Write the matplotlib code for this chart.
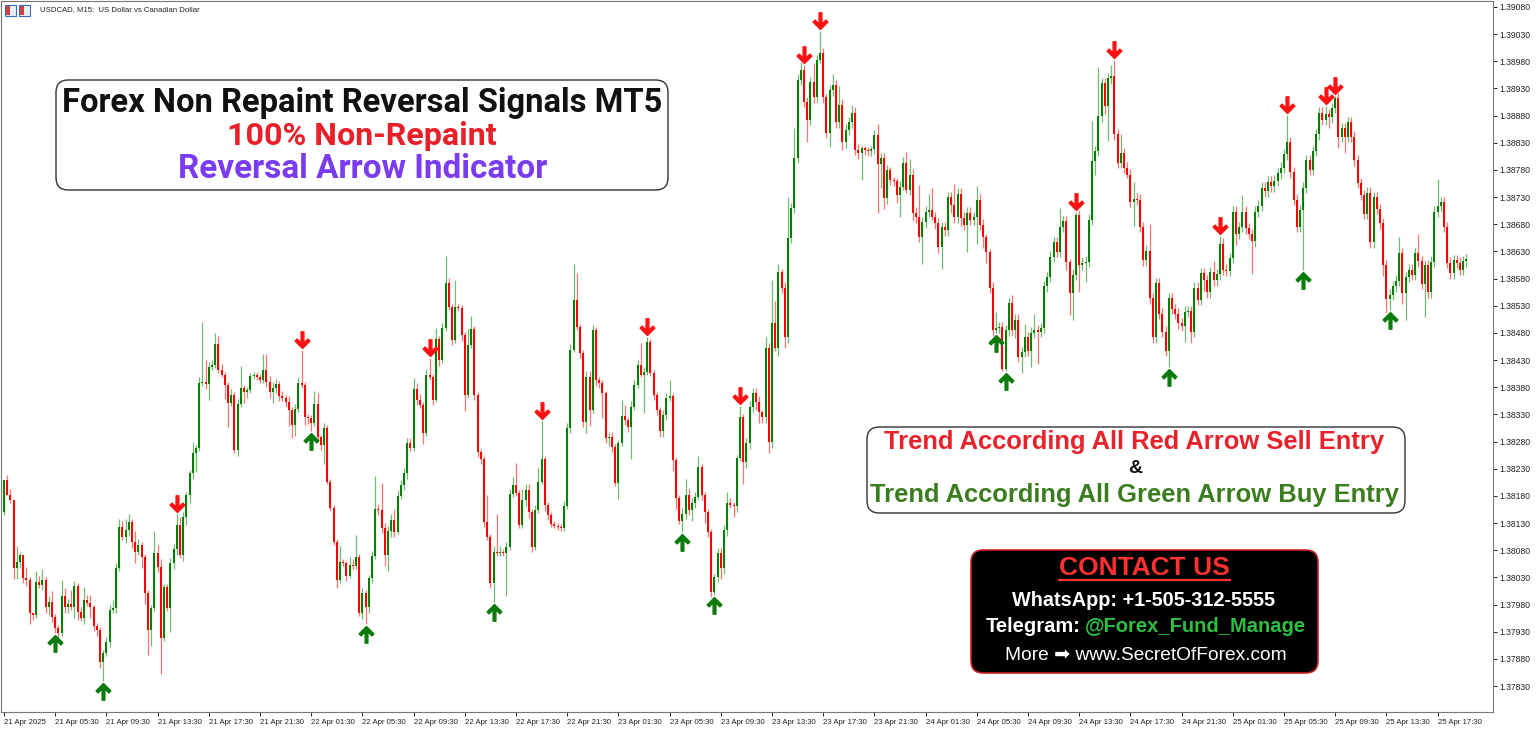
import numpy as np
import matplotlib
matplotlib.use("Agg")
import matplotlib.pyplot as plt
import matplotlib.transforms as mtransforms
from matplotlib.patches import FancyBboxPatch, Rectangle
from matplotlib.path import Path

# ---- data ----
first_open = 1.38150
closes = [
    1.38209, 1.38182, 1.38172, 1.38047, 1.38058, 1.38071, 1.38029, 1.38025, 1.37964, 1.37961,
    1.38022, 1.38016, 1.38025, 1.37975, 1.37985, 1.37957, 1.37937, 1.37928, 1.37996, 1.37975,
    1.37981, 1.37975, 1.38014, 1.37966, 1.37955, 1.37988, 1.37983, 1.37975, 1.37941, 1.37933,
    1.37874, 1.37891, 1.37911, 1.37970, 1.37974, 1.38047, 1.38123, 1.38104, 1.38117, 1.38132,
    1.38095, 1.38077, 1.38090, 1.38068, 1.38001, 1.37933, 1.37974, 1.38075, 1.38049, 1.37918,
    1.38012, 1.37974, 1.38056, 1.38082, 1.38126, 1.38071, 1.38141, 1.38182, 1.38222, 1.38259,
    1.38268, 1.38388, 1.38390, 1.38386, 1.38417, 1.38421, 1.38460, 1.38412, 1.38403, 1.38384,
    1.38351, 1.38366, 1.38264, 1.38349, 1.38379, 1.38371, 1.38375, 1.38401, 1.38403, 1.38399,
    1.38393, 1.38412, 1.38390, 1.38371, 1.38379, 1.38386, 1.38364, 1.38360, 1.38353, 1.38338,
    1.38311, 1.38340, 1.38388, 1.38384, 1.38325, 1.38323, 1.38314, 1.38349, 1.38288, 1.38274,
    1.38305, 1.38206, 1.38158, 1.38095, 1.38025, 1.38058, 1.38056, 1.38033, 1.38053, 1.38051,
    1.38068, 1.37964, 1.38001, 1.37975, 1.38029, 1.38069, 1.38156, 1.38154, 1.38121, 1.38071,
    1.38115, 1.38136, 1.38114, 1.38180, 1.38200, 1.38222, 1.38277, 1.38268, 1.38377, 1.38357,
    1.38347, 1.38296, 1.38403, 1.38399, 1.38357, 1.38469, 1.38430, 1.38489, 1.38572, 1.38528,
    1.38467, 1.38528, 1.38526, 1.38476, 1.38366, 1.38458, 1.38487, 1.38366, 1.38261, 1.38248,
    1.38132, 1.38104, 1.38020, 1.38077, 1.38075, 1.38077, 1.38075, 1.38086, 1.38183, 1.38200,
    1.38185, 1.38126, 1.38172, 1.38191, 1.38150, 1.38086, 1.38154, 1.38206, 1.38248, 1.38163,
    1.38145, 1.38128, 1.38125, 1.38123, 1.38121, 1.38161, 1.38305, 1.38449, 1.38541, 1.38491,
    1.38443, 1.38316, 1.38399, 1.38338, 1.38485, 1.38393, 1.38388, 1.38369, 1.38287, 1.38288,
    1.38270, 1.38204, 1.38277, 1.38327, 1.38320, 1.38307, 1.38344, 1.38384, 1.38421, 1.38403,
    1.38408, 1.38463, 1.38406, 1.38366, 1.38338, 1.38299, 1.38329, 1.38360, 1.38364, 1.38246,
    1.38176, 1.38134, 1.38147, 1.38182, 1.38154, 1.38167, 1.38178, 1.38233, 1.38182, 1.38150,
    1.38114, 1.38003, 1.38031, 1.38075, 1.38047, 1.38117, 1.38167, 1.38163, 1.38161, 1.38250,
    1.38325, 1.38242, 1.38277, 1.38344, 1.38369, 1.38353, 1.38334, 1.38325, 1.38452, 1.38279,
    1.38498, 1.38452, 1.38592, 1.38563, 1.38472, 1.38655, 1.38710, 1.38802, 1.38946, 1.38964,
    1.38905, 1.38872, 1.38942, 1.38914, 1.38982, 1.38995, 1.38914, 1.38848, 1.38927, 1.38936,
    1.38868, 1.38900, 1.38831, 1.38854, 1.38868, 1.38885, 1.38817, 1.38811, 1.38820, 1.38817,
    1.38815, 1.38819, 1.38844, 1.38791, 1.38802, 1.38728, 1.38780, 1.38762, 1.38760, 1.38734,
    1.38749, 1.38793, 1.38743, 1.38771, 1.38701, 1.38693, 1.38657, 1.38684, 1.38703, 1.38706,
    1.38693, 1.38682, 1.38638, 1.38675, 1.38669, 1.38730, 1.38715, 1.38693, 1.38736, 1.38692,
    1.38679, 1.38701, 1.38688, 1.38693, 1.38725, 1.38679, 1.38657, 1.38629, 1.38563, 1.38485,
    1.38489, 1.38491, 1.38414, 1.38485, 1.38535, 1.38485, 1.38504, 1.38436, 1.38445, 1.38472,
    1.38447, 1.38480, 1.38485, 1.38482, 1.38489, 1.38566, 1.38583, 1.38620, 1.38647, 1.38629,
    1.38675, 1.38686, 1.38611, 1.38553, 1.38587, 1.38697, 1.38605, 1.38609, 1.38611, 1.38688,
    1.38796, 1.38815, 1.38879, 1.38940, 1.38898, 1.38949, 1.38953, 1.38846, 1.38793, 1.38811,
    1.38784, 1.38771, 1.38721, 1.38727, 1.38725, 1.38675, 1.38614, 1.38631, 1.38544, 1.38472,
    1.38572, 1.38515, 1.38482, 1.38447, 1.38544, 1.38524, 1.38515, 1.38498, 1.38493, 1.38519,
    1.38520, 1.38482, 1.38563, 1.38541, 1.38590, 1.38577, 1.38555, 1.38592, 1.38577, 1.38588,
    1.38644, 1.38596, 1.38594, 1.38618, 1.38703, 1.38662, 1.38675, 1.38703, 1.38673, 1.38662,
    1.38649, 1.38703, 1.38714, 1.38747, 1.38741, 1.38758, 1.38750, 1.38760, 1.38774, 1.38784,
    1.38809, 1.38831, 1.38776, 1.38725, 1.38675, 1.38706, 1.38747, 1.38798, 1.38780, 1.38815,
    1.38846, 1.38885, 1.38872, 1.38883, 1.38877, 1.38894, 1.38912, 1.38841, 1.38857, 1.38841,
    1.38868, 1.38841, 1.38798, 1.38756, 1.38734, 1.38699, 1.38738, 1.38647, 1.38730, 1.38708,
    1.38682, 1.38605, 1.38542, 1.38550, 1.38566, 1.38576, 1.38627, 1.38553, 1.38583, 1.38596,
    1.38587, 1.38627, 1.38612, 1.38570, 1.38605, 1.38555, 1.38611, 1.38703, 1.38714, 1.38721,
    1.38675, 1.38609, 1.38590, 1.38614, 1.38609, 1.38596, 1.38612, 1.38616,
]
# wick lengths beyond the body, in pips
upper_wick = [
    0, 1, 1, 0, 3, 0.5, 0, 2, 0.5, 0,
    2, 1, 2, 0.5, 1, 2, 0.5, 0.5, 3, 1.5,
    1, 2.5, 1, 0.5, 1, 2.5, 1, 1.5, 0.5, 0.5,
    0.5, 0.5, 1, 1, 1.5, 1, 1.5, 1, 2, 1.5,
    0.5, 2, 1, 0.5, 0.5, 0.5, 0.5, 4, 1.5, 1.5,
    0.5, 0.5, 1, 1, 2, 1.5, 1, 0.5, 0.5, 2,
    0.5, 1, 11, 4, 1, 1, 2, 1.5, 1, 0.5,
    0.5, 1, 0.5, 1, 4, 0.5, 0.5, 0.5, 0.5, 0.5,
    0.5, 3, 3, 1, 1, 1, 0.5, 1, 0.5, 1,
    0.5, 1, 1, 6, 0.5, 0.5, 0.5, 2.5, 2, 0.5,
    1, 0.5, 0.5, 0.5, 0.5, 3, 0.5, 0.5, 1.5, 1,
    4, 0.5, 1, 0.5, 0.5, 1, 6, 1, 5, 1,
    1, 1, 2, 1, 1, 1, 1, 1, 2, 1,
    1, 0.5, 1, 3, 0.5, 2, 0.5, 1, 5, 1,
    0.5, 5, 0.5, 0.5, 0.5, 3, 2.5, 0.5, 0.5, 0.5,
    0.5, 5, 0.5, 1, 7, 1, 0.5, 1, 1, 1.5,
    4, 0.5, 2, 1, 1, 0.5, 1, 2.5, 7, 0.5,
    0.5, 0.5, 0.5, 0.5, 0.5, 1, 1, 1, 6.5, 5,
    0.5, 0.5, 1, 1, 1, 0.5, 0.5, 0.5, 0.5, 1,
    1, 0.5, 0.5, 3, 2, 0.5, 1, 1, 1, 4,
    1, 1, 0.5, 0.5, 0.5, 0.5, 1, 1, 3, 0.5,
    0.5, 0.5, 1, 3, 1, 1, 1, 2, 0.5, 0.5,
    0.5, 0.5, 0.5, 1, 1, 1, 2, 1, 0.5, 0.5,
    2, 0.5, 1, 1, 1, 1, 1, 0.5, 2, 1,
    8, 4, 1.5, 0.5, 1, 7.5, 1, 5.5, 1, 1.5,
    1, 1, 1, 3.5, 1, 4, 1, 0.5, 1, 2,
    1, 3.5, 1, 1, 1, 1.5, 1, 1, 0.5, 0.5,
    0.5, 0.5, 1, 2, 1, 1, 1, 0.5, 0.5, 0.5,
    1, 1, 2, 3, 1, 1, 6, 1, 1, 3,
    4, 1, 1, 1, 1, 1, 1, 4, 1, 1,
    1, 1, 1, 1, 2.5, 1, 1, 0.5, 0.5, 1,
    3, 1, 1, 1, 1, 1.5, 1, 1, 1, 2.5,
    1, 1, 3, 1, 1, 1, 1, 1, 1, 1,
    3.5, 1, 1, 0.5, 1, 0.5, 1, 1, 1, 1,
    7.5, 1, 9, 1, 1, 1, 2, 3, 1, 3.5,
    1, 1, 1, 3, 1, 1, 1, 1, 5, 1,
    1, 1, 1, 1, 1, 1, 1, 1, 1, 1,
    1, 1, 1, 1, 1, 1, 1, 1, 2, 1,
    1.5, 1, 1, 1, 1, 1, 1, 3, 1, 1,
    1, 1, 1, 1, 1, 1, 1, 1, 1, 1,
    1, 5, 1, 1, 1, 1, 1, 1, 1, 1,
    1, 1, 1, 1.5, 1, 1, 0.5, 1, 1, 1,
    1, 1, 1, 1, 1, 1, 1, 1, 1, 1,
    1, 1, 1, 1, 1, 1, 3, 1, 1, 1,
    1, 1, 3.5, 1, 1, 1, 1, 1, 5, 1,
    1, 1, 1, 1, 1, 1, 1, 1,
]
lower_wick = [
    0.5, 0, 0.5, 2, 2, 1, 1, 1, 2, 1,
    0.5, 0.5, 1, 1, 1.5, 1, 1, 1.5, 0.5, 1,
    1, 0.5, 2, 1.5, 0.5, 1, 0.5, 2, 1, 1,
    1, 3.5, 0.5, 1, 0.5, 1, 0.5, 0.5, 1, 1,
    1, 2, 0.5, 2, 2, 4.5, 3, 0.5, 1, 6.5,
    0.5, 0.5, 4.5, 1, 1, 0.5, 1, 1.5, 1.5, 1,
    3.5, 0.5, 0.5, 1, 3, 0.5, 0.5, 0.5, 0.5, 2.5,
    4.5, 0.5, 0.5, 1, 0.5, 2, 1, 0.5, 0.5, 0.5,
    0.5, 0.5, 1, 1, 2, 1, 1, 0.5, 1, 3,
    2.5, 2, 0.5, 0.5, 1.5, 1, 1.5, 0.5, 0.5, 1,
    3.5, 0.5, 0.5, 0.5, 1.5, 0.5, 0.5, 1, 0.5, 0.5,
    0.5, 0.5, 1, 3, 1, 1, 0.5, 1, 1, 2,
    3, 1, 1, 0.5, 0.5, 1, 1, 0.5, 0.5, 1,
    0.5, 2, 0.5, 0.5, 1, 0.5, 1, 0.5, 0.5, 0.5,
    1, 0.5, 0.5, 1, 3, 0.5, 0.5, 1, 1, 1,
    1, 0.5, 1, 3.5, 0.5, 0.5, 0.5, 8, 0.5, 0.5,
    0.5, 0.5, 0.5, 1, 1, 1, 0.5, 0.5, 0.5, 1,
    1, 0.5, 0.5, 0.5, 0.5, 0.5, 0.5, 1, 0.5, 0.5,
    1, 1, 2, 3, 0.5, 1, 1, 4.5, 1, 1.5,
    1, 0.5, 3, 0.5, 1, 1, 6, 0.5, 0.5, 0.5,
    7, 0.5, 0.5, 1, 1, 1, 1, 1, 0.5, 2,
    2, 0.5, 2, 1, 1, 2, 1, 0.5, 1, 2,
    1, 1, 0.5, 1, 2, 1, 1, 0.5, 2, 1,
    0.5, 4, 1, 1, 1, 1.5, 2, 1, 1, 2,
    1, 0.5, 1.5, 1, 2, 1, 1, 1, 1, 1,
    1, 4, 1, 1, 1, 0.5, 1, 1, 2.5, 1,
    1, 1, 1.5, 1, 1, 1, 1, 1, 5, 1,
    1, 1, 1, 9, 4.5, 2, 1, 1, 1, 1.5,
    4, 0.5, 0.5, 1, 1.5, 1, 1, 5, 1, 1,
    0.5, 1, 1, 4, 1, 1, 1.5, 1, 1, 1.5,
    1, 5, 1, 1, 5, 1, 2, 2, 1, 1,
    0.5, 1, 0.5, 0.5, 1, 1, 1.5, 1, 3, 1,
    1, 3, 1, 6, 1, 1, 1, 1, 1, 1,
    1, 1, 1.5, 4, 5, 1, 5, 1, 3.5, 1,
    1, 2.5, 1, 1, 1.5, 6.5, 1, 1, 1, 1,
    1, 0.5, 1, 4.5, 1, 1, 1, 1, 1, 1,
    1, 1, 1, 1, 3, 1, 1, 1, 1, 3,
    1, 2, 1, 1, 1, 2, 1, 1, 1, 1,
    1, 1, 1, 1, 1, 2, 1, 1, 1, 1,
    6, 1, 1, 1, 1, 1, 1, 1, 1, 1,
    1, 1, 1, 1, 1, 1, 11, 1, 1, 1,
    1, 1, 1, 1, 2, 1, 1, 2, 1, 3,
    1, 1, 1, 1, 1, 1, 1, 1, 1, 1,
    1, 2, 2.5, 2, 1, 1, 1, 2, 5, 1,
    1, 1, 1, 1, 6, 1, 1, 1, 1, 1,
    1, 1, 1, 1, 1, 1, 1, 1,
]
sell_signals = [54, 93, 133, 168, 201, 230, 250, 255, 335, 347, 380, 401, 413, 416]
buy_signals = [16, 31, 96, 113, 153, 212, 222, 310, 313, 364, 406, 433]

time_labels = ["21 Apr 2025", "21 Apr 05:30", "21 Apr 09:30", "21 Apr 13:30", "21 Apr 17:30",
               "21 Apr 21:30", "22 Apr 01:30", "22 Apr 05:30", "22 Apr 09:30", "22 Apr 13:30",
               "22 Apr 17:30", "22 Apr 21:30", "23 Apr 01:30", "23 Apr 05:30", "23 Apr 09:30",
               "23 Apr 13:30", "23 Apr 17:30", "23 Apr 21:30", "24 Apr 01:30", "24 Apr 05:30",
               "24 Apr 09:30", "24 Apr 13:30", "24 Apr 17:30", "24 Apr 21:30", "25 Apr 01:30",
               "25 Apr 05:30", "25 Apr 09:30", "25 Apr 13:30", "25 Apr 17:30"]
bars_per_label = 16
price_ticks = [1.37830 + 0.0005 * k for k in range(26)]

# ---- figure ----
W, H = 1536, 732
fig = plt.figure(figsize=(W / 100, H / 100), dpi=100)
small_font = ["Liberation Sans", "DejaVu Sans"]


def box(x0, y0, x1, y1):
    return [x0 / W, 1 - y1 / H, (x1 - x0) / W, (y1 - y0) / H]


def fx(x):
    return x / W


def fy(y):
    return 1 - y / H


ax = fig.add_axes(box(1, 1, 1493, 712))
for s in ax.spines.values():
    s.set_color("#777777")
    s.set_linewidth(0.8)

c = np.array(closes)
o = np.array([first_open] + closes[:-1])
hi = np.maximum(o, c) + np.array(upper_wick) * 1e-4
lo = np.minimum(o, c) - np.array(lower_wick) * 1e-4
idx = np.arange(len(c))
up = c >= o

green, red = "#007f00", "#ff0000"
cols = np.where(up, green, red)
ax.vlines(idx, lo, hi, colors=cols, linewidth=0.9, alpha=0.55, zorder=2)
ax.bar(idx, np.maximum(np.abs(c - o), 0.000012), bottom=np.minimum(o, c), width=0.62,
       color=cols, linewidth=0, zorder=3)

ax.set_xlim(-0.94, 465.3)
ax.set_ylim(1.377822, 1.390910)

# signal arrows
dn = Path([(-0.16, 1), (0.16, 1), (0.16, -0.3), (0.62, 0.16), (0.85, -0.07), (0, -0.92),
           (-0.85, -0.07), (-0.62, 0.16), (-0.16, -0.3), (-0.16, 1)],
          [Path.MOVETO] + [Path.LINETO] * 8 + [Path.CLOSEPOLY])
upm = Path([(x, -y) for x, y in dn.vertices], dn.codes)
t_dn = mtransforms.offset_copy(ax.transData, fig=fig, x=0, y=10, units="dots")
t_up = mtransforms.offset_copy(ax.transData, fig=fig, x=0, y=-10, units="dots")
ax.plot(sell_signals, hi[sell_signals], ls="none", marker=dn, ms=12.5, color="#ff1010",
        mec="#ff1010", transform=t_dn, zorder=5, clip_on=False)
ax.plot(buy_signals, lo[buy_signals], ls="none", marker=upm, ms=12.5, color="#0a7a0a",
        mec="#0a7a0a", transform=t_up, zorder=5, clip_on=False)

# axes ticks
ax.yaxis.tick_right()
ax.set_yticks(price_ticks)
ax.set_yticklabels([f"{p:.5f}" for p in price_ticks], family=small_font)
ax.tick_params(axis="y", direction="out", length=3, width=0.7, pad=1.5, labelsize=6.2,
               colors="#222222")
xt = np.arange(len(time_labels)) * bars_per_label
ax.set_xticks(xt)
ax.set_xticklabels(time_labels, ha="left", family=small_font)
ax.tick_params(axis="x", direction="out", length=3, width=0.7, pad=2, labelsize=5.6,
               colors="#222222")

# header
fig.text(fx(40), fy(10), "USDCAD, M15:  US Dollar vs Canadian Dollar", fontsize=5.6,
         family=small_font, va="center", ha="left", color="#222222")
for x0, c1 in [(5, "#d04040"), (19, "#d04040")]:
    fig.patches.append(Rectangle((fx(x0), fy(16)), 11 / W, 11 / H, transform=fig.transFigure,
                                 facecolor="#e8eef8", edgecolor="#3a6fc0", lw=0.8))
    fig.patches.append(Rectangle((fx(x0 + 1), fy(15)), 4 / W, 9 / H, transform=fig.transFigure,
                                 facecolor=c1, edgecolor="none"))

renderer = fig.canvas.get_renderer()


def fit(t, width):
    for _ in range(3):
        w = t.get_window_extent(renderer).width
        t.set_fontsize(t.get_fontsize() * width / w)
    return t


def rbox(x0, y0, x1, y1, fc, ec, lw=1.0):
    p = FancyBboxPatch((fx(x0), fy(y1)), (x1 - x0) / W, (y1 - y0) / H,
                       boxstyle="round,pad=0,rounding_size=0.008",
                       transform=fig.transFigure, facecolor=fc, edgecolor=ec, lw=lw,
                       mutation_aspect=W / H, zorder=10)
    fig.patches.append(p)


# box 1
rbox(56, 80, 668, 190, "white", "#333333")
title_font = ["Roboto", "DejaVu Sans"]
fit(fig.text(fx(362), fy(103), "Forex Non Repaint Reversal Signals MT5", family=title_font,
             weight="bold", color="#111111", ha="center", va="center", fontsize=20, zorder=11), 600)
fit(fig.text(fx(362), fy(136), "100% Non-Repaint", family=title_font, weight="bold",
             color="#e8202a", ha="center", va="center", fontsize=20, zorder=11), 270)
fit(fig.text(fx(363), fy(169), "Reversal Arrow Indicator", family=title_font, weight="bold",
             color="#7a3cf0", ha="center", va="center", fontsize=20, zorder=11), 370)

# box 2
rbox(867, 427, 1405, 513, "white", "#333333")
f2 = ["Liberation Sans", "DejaVu Sans"]
fit(fig.text(fx(1134), fy(442), "Trend According All Red Arrow Sell Entry", family=f2,
             weight="bold", color="#e8222a", ha="center", va="center", fontsize=15, zorder=11), 502)
fig.text(fx(1135), fy(468), "&", family=f2, weight="bold", color="#111111", ha="center",
         va="center", fontsize=14, zorder=11)
fit(fig.text(fx(1134), fy(495), "Trend According All Green Arrow Buy Entry", family=f2,
             weight="bold", color="#3a7d1e", ha="center", va="center", fontsize=15, zorder=11), 529)

# box 3
rbox(971, 550, 1318, 673, "black", "#cc2020", lw=1.2)
fit(fig.text(fx(1144), fy(568), "CONTACT US", family=f2, weight="bold", color="#ff3030",
             ha="center", va="center", fontsize=16, zorder=11), 171)
fig.add_artist(plt.Line2D([fx(1059), fx(1230)], [fy(580), fy(580)], color="#ff3030", lw=1.6,
                          transform=fig.transFigure, zorder=11))
fit(fig.text(fx(1143), fy(600), "WhatsApp: +1-505-312-5555", family=f2, weight="bold",
             color="white", ha="center", va="center", fontsize=13, zorder=11), 264)
tg = fit(fig.text(fx(1085), fy(627), "@Forex_Fund_Manage", family=f2, weight="bold",
                  color="#2bc040", ha="left", va="center", fontsize=13, zorder=11), 221)
fig.text(fx(1081), fy(627), "Telegram:", family=f2, weight="bold", color="white", ha="right",
         va="center", fontsize=tg.get_fontsize(), zorder=11)
fit(fig.text(fx(1146), fy(655), "More \u27a1 www.SecretOfForex.com", family=f2, color="white",
             ha="center", va="center", fontsize=13, zorder=11), 282)

fig.savefig("out.png", dpi=100, facecolor="white")
